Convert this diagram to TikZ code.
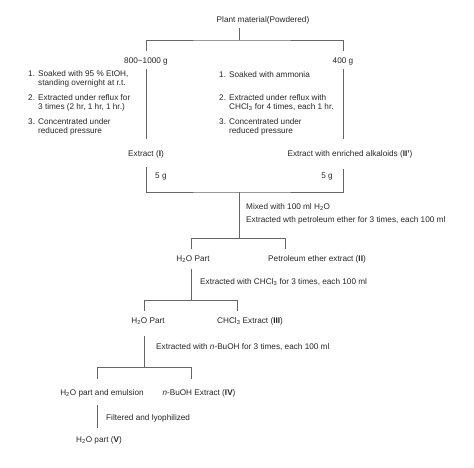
\documentclass[tikz,border=0pt]{standalone}
\usepackage{fontspec}
\setmainfont{Liberation Sans}

\begin{document}
\begin{tikzpicture}[x=1pt,y=-1pt, font=\fontsize{8.2}{9}\selectfont,
    every node/.style={inner sep=0pt, text=black!85},
    link/.style={draw=black!60, line width=0.7pt},
    steptxt/.style={anchor=west, align=left},
    lbl/.style={anchor=west}]
    \useasboundingbox (0,0) rectangle (474,468);

    % start material and the two batches
    \node (plant) at (263,20) {Plant material(Powdered)};
    \coordinate (jA) at (239,40);
    \node (amtL) at (146,61) {800\textasciitilde1000 g};
    \node (amtR) at (343,61) {400 g};
    \draw[link, shorten <=4pt] (jA |- plant.south) -- (jA);
    \draw[link, shorten <=6pt, shorten >=6pt] (amtL.north) |- (jA) -| (amtR.north);

    % left work-up
    \node[anchor=west] (nL1) at (28,74) {1.};
    \node[steptxt] (sL1) at (38,78.5) {Soaked with 95 \% EtOH,\\standing overnight at r.t.};
    \node[anchor=west] (nL2) at (28,98) {2.};
    \node[steptxt] (sL2) at (38,102.5) {Extracted under reflux for\\3 times (2 hr, 1 hr, 1 hr.)};
    \node[anchor=west] (nL3) at (28,122) {3.};
    \node[steptxt] (sL3) at (38,126.5) {Concentrated under\\reduced pressure};

    % right work-up
    \node[anchor=west] (nR1) at (219,75) {1.};
    \node[steptxt] (sR1) at (229,75) {Soaked with ammonia};
    \node[anchor=west] (nR2) at (219,98) {2.};
    \node[steptxt] (sR2) at (229,102.5) {Extracted under reflux with\\CHCl\textsubscript{3} for 4 times, each 1 hr.};
    \node[anchor=west] (nR3) at (219,122) {3.};
    \node[steptxt] (sR3) at (229,126.5) {Concentrated under\\reduced pressure};

    % the two extracts
    \node (extI) at (146,154) {Extract (\textbf{I})};
    \node (extII) at (350,154) {Extract with enriched alkaloids (\textbf{II'})};
    \draw[link, shorten <=4pt, shorten >=11pt] (amtL.south) -- (extI.north);
    \draw[link, shorten <=4pt, shorten >=11pt] (amtR.south) -- (amtR |- extII.north);

    % combined 5 g + 5 g
    \coordinate (jB) at (239,192);
    \coordinate (jC) at (239,238);
    \node[lbl] (gL) at (155,177) {5 g};
    \node[anchor=east] (gR) at (333,177) {5 g};
    \draw[link, shorten <=9pt, shorten >=11pt] (extI.south) |- (jB) -| (amtR |- extII.south);
    \draw[link] (jB) -- (jC);
    \node[lbl] (mix) at (246,207) {Mixed with 100 ml H\textsubscript{2}O};
    \node[lbl] (petx) at (246,220) {Extracted wth petroleum ether for 3 times, each 100 ml};

    % petroleum ether partition
    \coordinate (jCl) at (191,238);
    \coordinate (jCr) at (285,238);
    \node (h2oA) at (193,259) {H\textsubscript{2}O Part};
    \node (pet) at (317,259) {Petroleum ether extract (\textbf{II})};
    \draw[link, shorten <=6pt, shorten >=6pt] (jCl |- h2oA.north) -- (jCl) -- (jCr) -- (jCr |- pet.north);

    % chloroform partition
    \coordinate (jD) at (191,300);
    \coordinate (jDl) at (144,300);
    \coordinate (jDr) at (237,300);
    \node[lbl] (chx) at (200,282) {Extracted with CHCl\textsubscript{3} for 3 times, each 100 ml};
    \node (h2oB) at (148,321) {H\textsubscript{2}O Part};
    \node (chcl) at (250,321) {CHCl\textsubscript{3} Extract (\textbf{III})};
    \draw[link, shorten <=6pt] (jD |- h2oA.south) -- (jD);
    \draw[link, shorten <=6pt, shorten >=6pt] (jDl |- h2oB.north) -- (jDl) -- (jDr) -- (jDr |- chcl.north);

    % butanol partition
    \coordinate (jE) at (144,367);
    \coordinate (jEl) at (97,367);
    \coordinate (jEr) at (191,367);
    \node[lbl] (bux) at (156,347) {Extracted with \textit{n}-BuOH for 3 times, each 100 ml};
    \node (emul) at (102,393) {H\textsubscript{2}O part and emulsion};
    \node (buoh) at (199,393) {\textit{n}-BuOH Extract (\textbf{IV})};
    \draw[link, shorten <=11pt] (jE |- h2oB.south) -- (jE);
    \draw[link, shorten <=10pt, shorten >=10pt] (jEl |- emul.north) -- (jEl) -- (jEr) -- (jEr |- buoh.north);

    % final product
    \node (h2oV) at (99,440) {H\textsubscript{2}O part (\textbf{V})};
    \node[lbl] (fil) at (106,418) {Filtered and lyophilized};
    \draw[link, shorten <=8pt, shorten >=8pt] (jEl |- emul.south) -- (jEl |- h2oV.north);
\end{tikzpicture}
\end{document}
